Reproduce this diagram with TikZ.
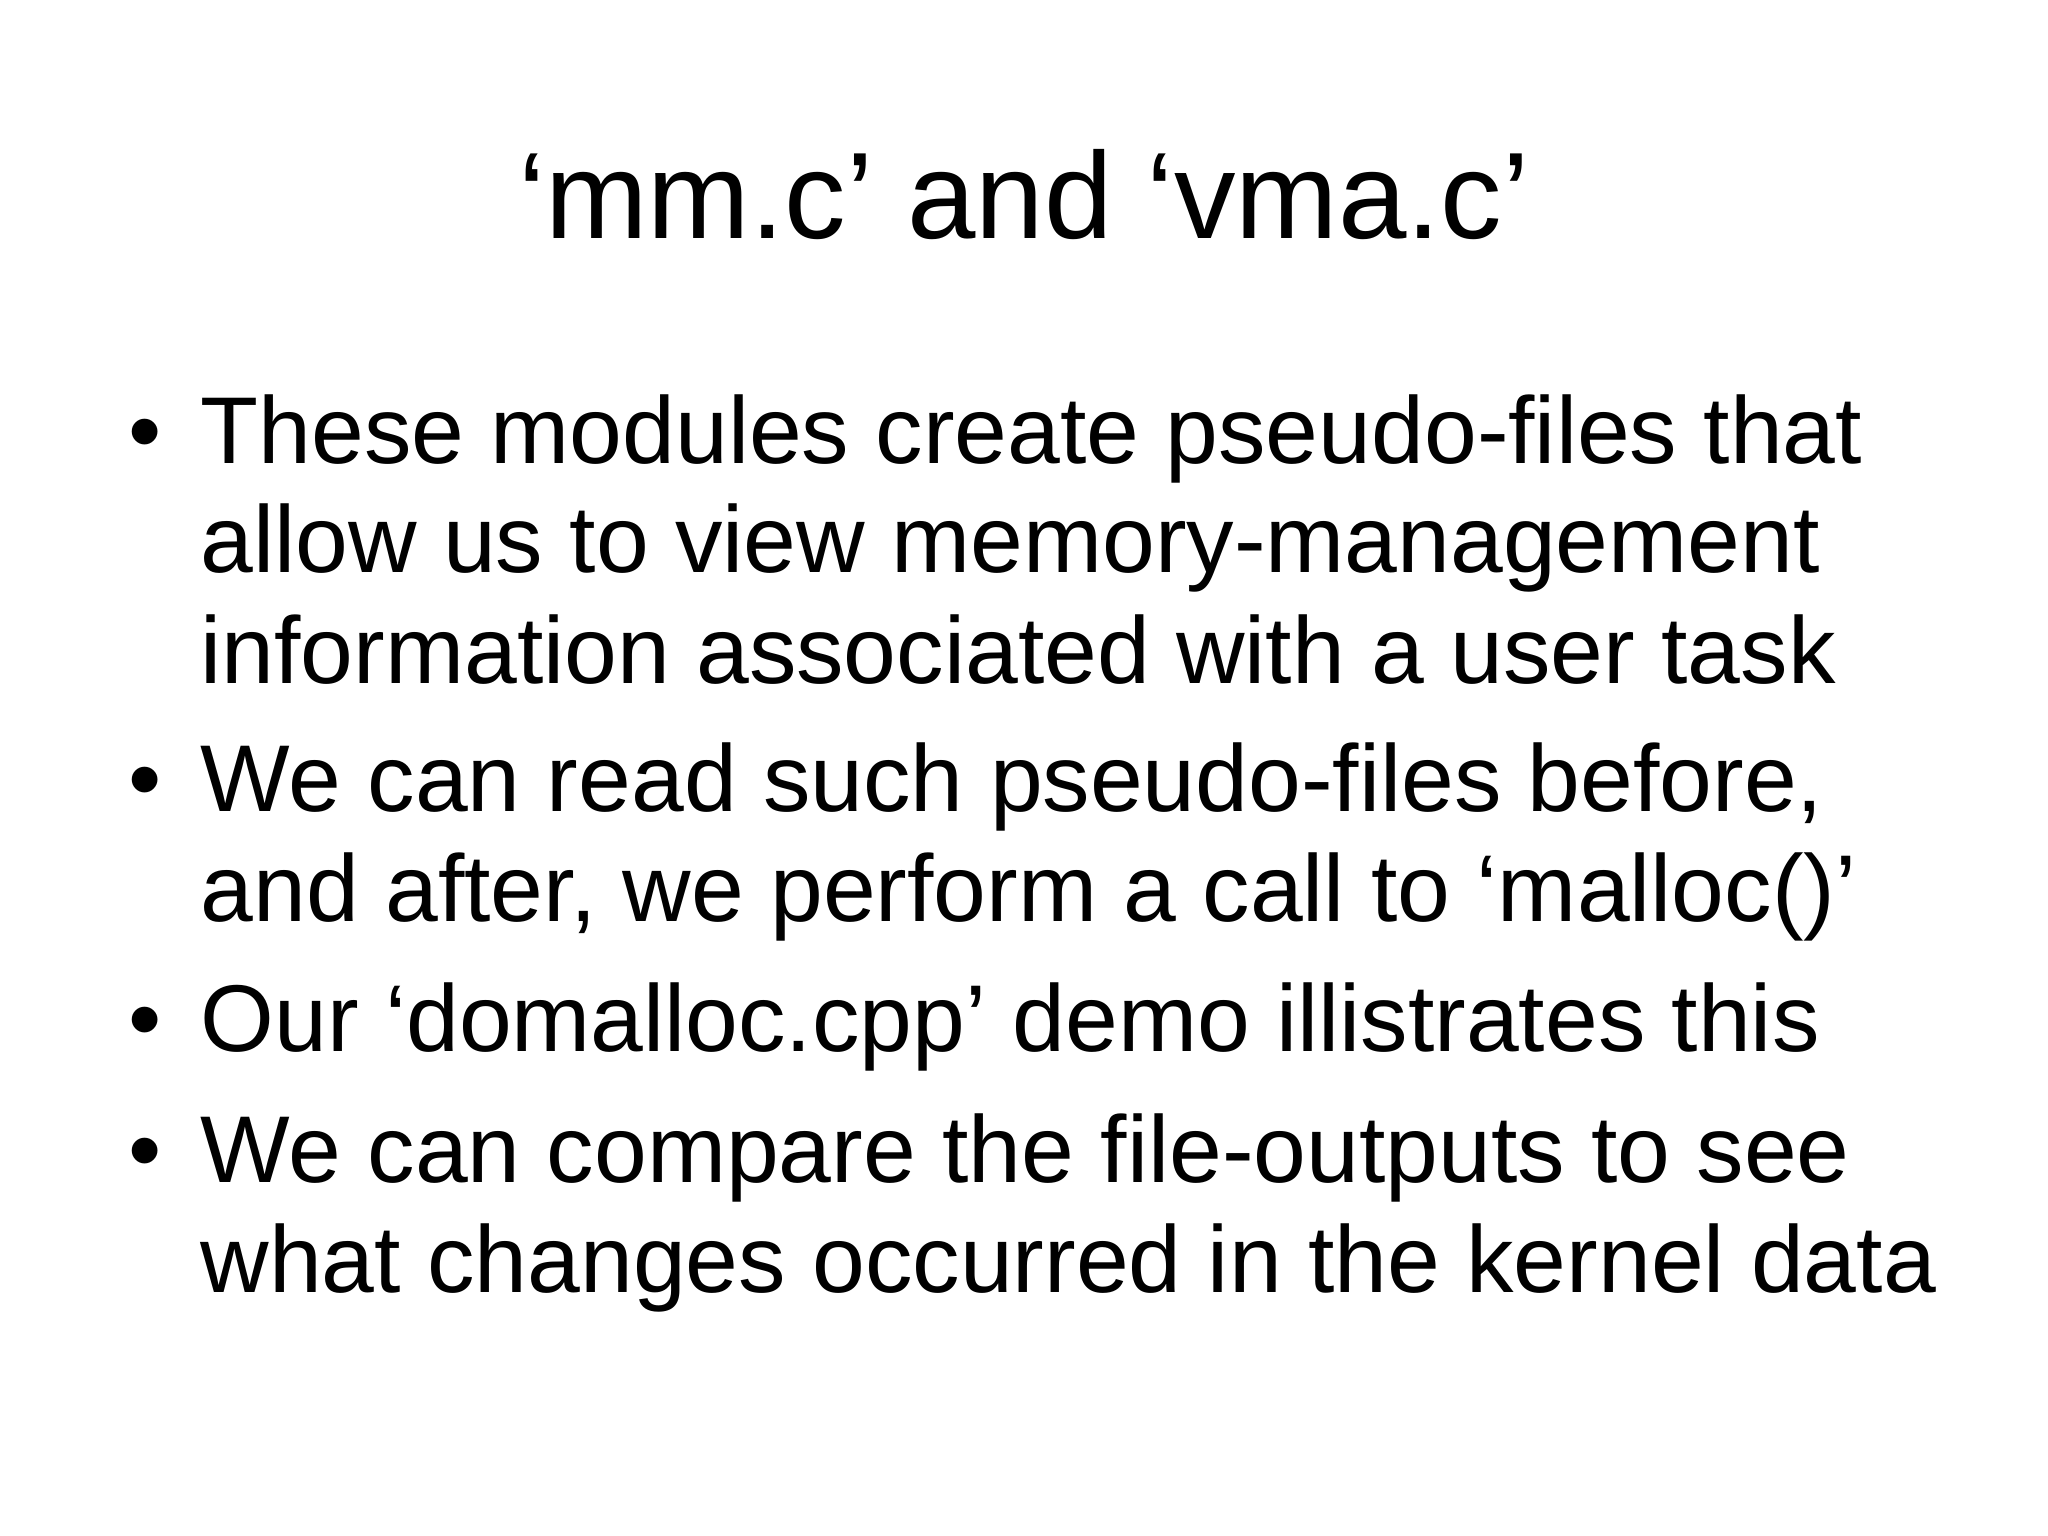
\documentclass[tikz,border=0pt]{standalone}
\usepackage{fontspec}
\setmainfont{Liberation Sans}
\begin{document}
\begin{tikzpicture}[x=1cm,y=1cm,
  title/.style={anchor=base,inner sep=0pt,font=\fontsize{35}{40}\selectfont},
  line/.style={anchor=base west,inner sep=0pt,font=\fontsize{27}{32}\selectfont},
  bul/.style={anchor=base west,inner sep=0pt,font=\fontsize{27}{32}\selectfont}]
\useasboundingbox (0,0) rectangle (20.48,-15.36);
\node[title] (t) at (10.24,-2.39) {‘mm.c’ and ‘vma.c’};
\node[bul] (b1) at (1.28,-4.64) {•};
\node[line] (l1) at (2.0,-4.64) {These modules create pseudo-files that};
\node[line] (l2) at (2.0,-5.73) {allow us to view memory-management};
\node[line] (l3) at (2.0,-6.83) {information associated with a user task};
\node[bul] (b2) at (1.28,-8.11) {•};
\node[line] (l4) at (2.0,-8.11) {We can read such pseudo-files before,};
\node[line] (l5) at (2.0,-9.21) {and after, we perform a call to ‘malloc()’};
\node[bul] (b3) at (1.28,-10.51) {•};
\node[line] (l6) at (2.0,-10.51) {Our ‘domalloc.cpp’ demo illistrates this};
\node[bul] (b4) at (1.28,-11.82) {•};
\node[line] (l7) at (2.0,-11.82) {We can compare the file-outputs to see};
\node[line] (l8) at (2.0,-12.92) {what changes occurred in the kernel data};
\end{tikzpicture}
\end{document}
